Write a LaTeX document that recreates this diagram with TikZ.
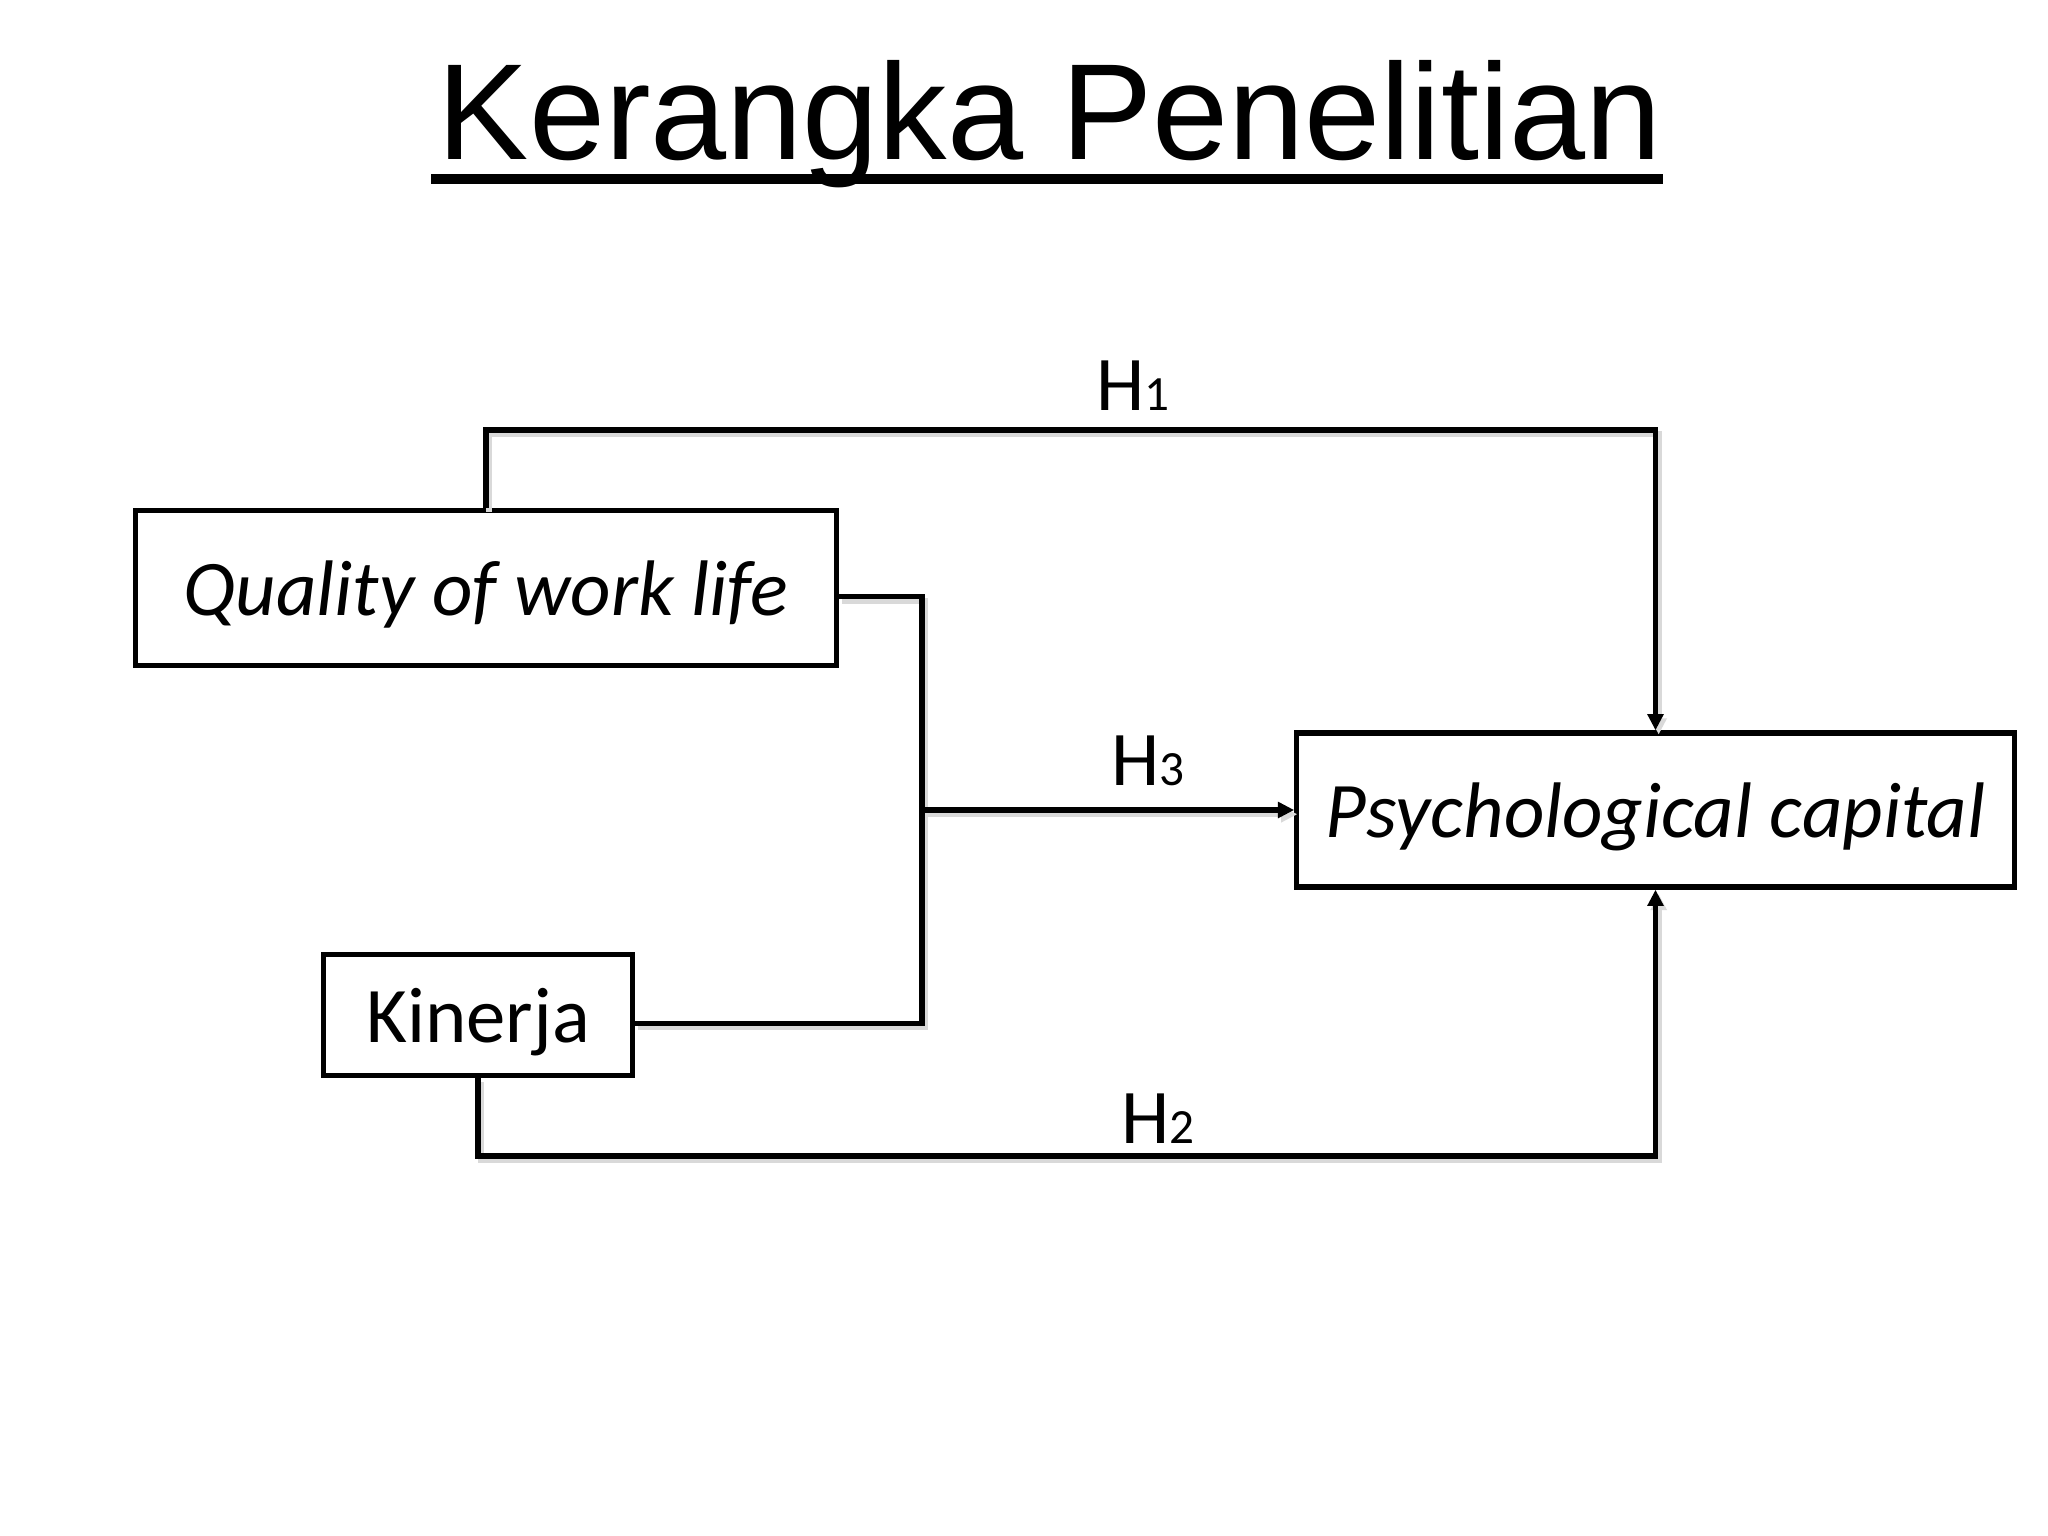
\documentclass[tikz,border=0pt]{standalone}
\usepackage{fontspec}
\setmainfont{Carlito}
\newfontfamily\titlefont{Liberation Sans}
\usetikzlibrary{arrows.meta}
\tikzset{
  box/.style={draw, line width=1.5pt, inner sep=0pt, align=center, text height=19pt, text depth=3.6pt, font=\fontsize{22.4pt}{26pt}\selectfont},
  conn/.style={line width=1.45pt, line join=miter,
    preaction={draw, gray!30, line width=1.8pt, transform canvas={xshift=0.9pt, yshift=-1.2pt}}},
  tip/.style={-{Triangle[length=4.6pt,width=4.4pt]}},
  hlabel/.style={anchor=base, inner sep=0pt, font=\fontsize{22pt}{24pt}\selectfont},
}
\newcommand{\sm}[1]{{\fontsize{14pt}{14pt}\selectfont #1}}
\begin{document}
\begin{tikzpicture}[x=0.01cm, y=-0.01cm]
\useasboundingbox (0,0) rectangle (2048,1536);
% title
\node[anchor=base, inner sep=0pt, font=\titlefont\fontsize{38.9pt}{40pt}\selectfont] (title) at (1050,159) {Kerangka Penelitian};
\draw[line width=2.6pt] (title.base west |- 0,179) ++(-6,0) coordinate (ul1) -- (title.base east |- 0,179) ++(6,0) coordinate (ul2);
% boxes
\node[box, minimum width=7cm, minimum height=1.55cm] (qwl) at (486,588) {\itshape Quality of work life};
\node[box, minimum width=3.09cm, minimum height=1.21cm] (kin) at (478,1015) {Kinerja};
\node[box, minimum width=7.17cm, minimum height=1.54cm] (psy) at (1655.5,810) {\itshape Psychological capital};
% coordinates
\coordinate (h1top) at (1655.5,430);
\coordinate (jx) at (922,810);
\coordinate (h2bot) at (1655.5,1156);
% connectors
\draw[conn, tip] (qwl.north) |- (h1top) -- (psy.north);
\draw[conn] ([yshift=-2.5pt]qwl.east) -| (jx);
\draw[conn] ([yshift=-2.3pt]kin.east) -| (jx);
\draw[conn, tip] (jx) -- (psy.west);
\draw[conn, tip] (kin.south) |- (h2bot) -- (psy.south);
% labels
\node[hlabel] (h1) at (1133,410) {H\sm{1}};
\node[hlabel] (h3) at (1148,785) {H\sm{3}};
\node[hlabel] (h2) at (1158,1143) {H\sm{2}};
\end{tikzpicture}
\end{document}
